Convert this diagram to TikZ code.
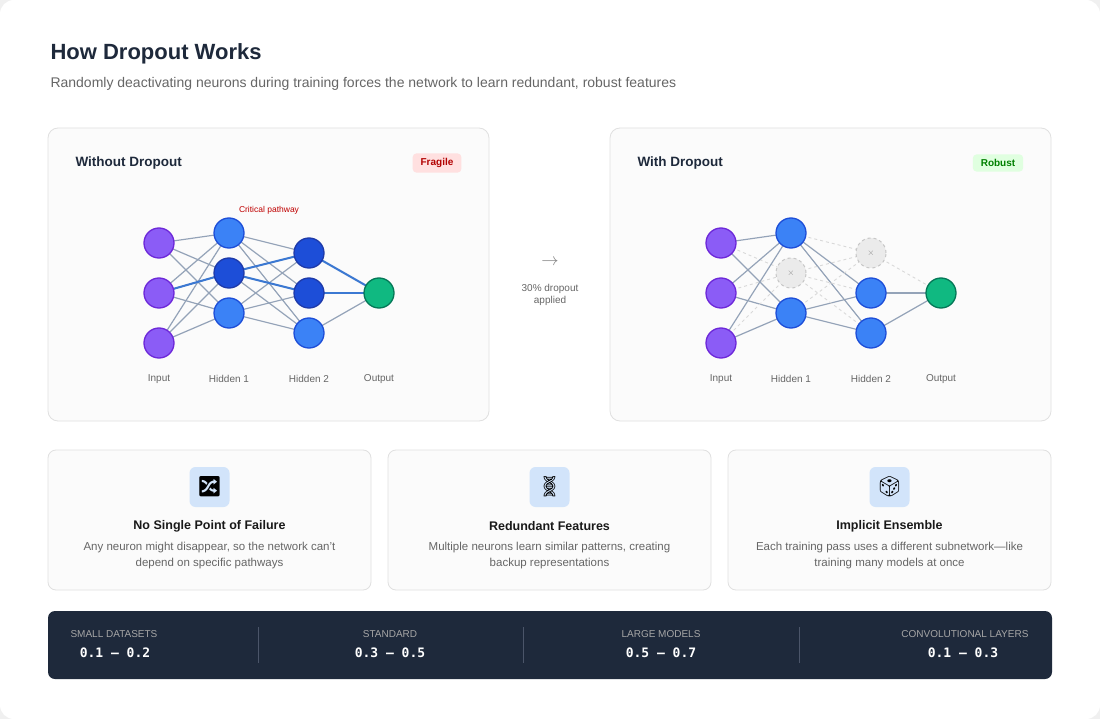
\documentclass[tikz,border=0pt]{standalone}
\usepackage{fontspec}
\setmainfont{Liberation Sans}
\newfontfamily\emo{Noto Emoji}
\newfontfamily\monob{DejaVu Sans Mono}
\definecolor{slatedark}{RGB}{30,41,59}
\definecolor{slatebar}{RGB}{30,41,59}
\definecolor{inpf}{RGB}{139,92,246}
\definecolor{inpd}{RGB}{109,40,217}
\definecolor{hidf}{RGB}{59,130,246}
\definecolor{hidd}{RGB}{29,78,216}
\definecolor{hiddd}{RGB}{30,58,170}
\definecolor{outf}{RGB}{16,185,129}
\definecolor{outd}{RGB}{4,120,87}
\definecolor{edgec}{RGB}{148,163,184}
\definecolor{hic}{RGB}{59,120,210}
\definecolor{iboxc}{RGB}{210,228,250}
\definecolor{sepc}{RGB}{75,85,105}
\begin{document}
\begin{tikzpicture}[x=1pt,y=-1pt,
  panel/.style={draw=black!12,fill=black!1.5,rounded corners=10pt,line width=0.8pt},
  inp/.style={circle,minimum size=30pt,inner sep=0,draw=inpd,fill=inpf,line width=1.3pt},
  hid/.style={circle,minimum size=30pt,inner sep=0,draw=hidd,fill=hidf,line width=1.3pt},
  hiddk/.style={hid,fill=hidd,draw=hiddd},
  outn/.style={circle,minimum size=30pt,inner sep=0,draw=outd,fill=outf,line width=1.3pt},
  drop/.style={circle,minimum size=30pt,inner sep=0,draw=black!22,dashed,fill=black!8,line width=1pt,font=\fontsize{9}{9}\selectfont,text=black!45},
  ed/.style={draw=edgec,line width=1.2pt},
  hi/.style={draw=hic,line width=2pt},
  de/.style={draw=black!15,dashed,line width=0.9pt},
  lab/.style={font=\fontsize{10}{10}\selectfont,text=black!60},
  ttl/.style={font=\bfseries\fontsize{13.5}{14}\selectfont,text=slatedark,anchor=west},
  card/.style={draw=black!12,fill=black!1.5,rounded corners=8pt,line width=0.8pt},
  ibox/.style={fill=iboxc,rounded corners=6pt,minimum size=40pt,inner sep=0},
  ct/.style={font=\bfseries\fontsize{12.5}{13}\selectfont,text=black!90},
  cd/.style={font=\fontsize{11.5}{16}\selectfont,text=black!60,align=center},
  sl/.style={font=\fontsize{10}{10}\selectfont,text=black!35},
  sv/.style={font=\monob\bfseries\fontsize{13}{13}\selectfont,text=white}]
\fill[black!6] (0,0) rectangle (1100,719);
\fill[white,rounded corners=14pt] (0,0) rectangle (1100,719);
\useasboundingbox (0,0) rectangle (1100,719);
\node[anchor=west,font=\bfseries\fontsize{22}{22}\selectfont,text=slatedark] (title) at (47,54) {How Dropout Works};
\node[anchor=west,font=\fontsize{14}{14}\selectfont,text=black!60] (sub) at (47,84) {Randomly deactivating neurons during training forces the network to learn redundant, robust features};
% panels
\draw[panel] (48,128) rectangle (489,421);
\draw[panel] (610,128) rectangle (1051,421);
\node[ttl] (t1) at (72,163) {Without Dropout};
\node[ttl] (t2) at (634,163) {With Dropout};
\node[fill=red!12,text=red!70!black,rounded corners=4pt,font=\bfseries\fontsize{10}{10}\selectfont,inner xsep=8pt,inner ysep=5pt] (b1) at (437,163) {Fragile};
\node[fill=green!12,text=green!50!black,rounded corners=4pt,font=\bfseries\fontsize{10}{10}\selectfont,inner xsep=8pt,inner ysep=5pt] (b2) at (998,163) {Robust};
\node[font=\fontsize{18}{18}\selectfont,text=black!50] (arr) at (550,262) {$\rightarrow$};
\node[font=\fontsize{10}{12}\selectfont,text=black!60,align=center] (arrl) at (550,295) {30\% dropout\\applied};
% left network
\foreach \i/\y in {1/243,2/293,3/343} \coordinate (a\i) at (159,\y);
\coordinate (b1n) at (229,233); \coordinate (b2n) at (229,273); \coordinate (b3n) at (229,313);
\coordinate (c1) at (309,253); \coordinate (c2) at (309,293); \coordinate (c3) at (309,333);
\coordinate (o) at (379,293);
\foreach \i in {1,2,3} \foreach \j in {b1n,b2n,b3n} \path[ed] (a\i) -- (\j);
\foreach \i in {b1n,b2n,b3n} \foreach \j in {c1,c2,c3} \path[ed] (\i) -- (\j);
\foreach \i in {c1,c2,c3} \path[ed] (\i) -- (o);
\path[hi] (a2) -- (b2n); \path[hi] (b2n) -- (c1); \path[hi] (b2n) -- (c2);
\path[hi] (c1) -- (o); \path[hi] (c2) -- (o);
\node[inp] (an1) at (a1) {};\node[inp] (an2) at (a2) {};\node[inp] (an3) at (a3) {};
\node[hid] (bb1) at (b1n) {};\node[hiddk] (bb2) at (b2n) {};\node[hid] (bb3) at (b3n) {};
\node[hiddk] (cc1) at (c1) {};\node[hiddk] (cc2) at (c2) {};\node[hid] (cc3) at (c3) {};\node[outn] (oo) at (o) {};
\node[font=\fontsize{8.5}{9}\selectfont,text=red!75!black] (crit) at (269,210) {Critical pathway};
\node[lab] (l1) at (159,379) {Input};
\node[lab] (l2) at (229,379) {Hidden 1};
\node[lab] (l3) at (309,379) {Hidden 2};
\node[lab] (l4) at (379,379) {Output};
% right network
\foreach \i/\y in {1/243,2/293,3/343} \coordinate (p\i) at (721,\y);
\coordinate (q1) at (791,233); \coordinate (q2) at (791,273); \coordinate (q3) at (791,313);
\coordinate (r1) at (871,253); \coordinate (r2) at (871,293); \coordinate (r3) at (871,333);
\coordinate (s) at (941,293);
\foreach \i in {1,2,3} {\path[de] (p\i) -- (q2); \path[ed] (p\i) -- (q1); \path[ed] (p\i) -- (q3);}
\foreach \i in {q1,q3} {\path[de] (\i) -- (r1); \path[ed] (\i) -- (r2); \path[ed] (\i) -- (r3);}
\foreach \j in {r1,r2,r3} \path[de] (q2) -- (\j);
\path[de] (r1) -- (s); \path[ed] (r2) -- (s); \path[ed] (r3) -- (s);
\foreach \i in {1,2,3} \node[inp] (pn\i) at (p\i) {};
\node[hid] (qn1) at (q1) {}; \node[drop] (qn2) at (q2) {$\times$}; \node[hid] (qn3) at (q3) {};
\node[drop] (rn1) at (r1) {$\times$}; \node[hid] (rn2) at (r2) {}; \node[hid] (rn3) at (r3) {};
\node[outn] (sn) at (s) {};
\node[lab] (m1) at (721,379) {Input};
\node[lab] (m2) at (791,379) {Hidden 1};
\node[lab] (m3) at (871,379) {Hidden 2};
\node[lab] (m4) at (941,379) {Output};
% cards
\foreach \x in {48,388,728} \draw[card] (\x,450) rectangle ++(323,140);
\node[ibox] (i1) at (209.5,487) {\emo\fontsize{20}{20}\selectfont 🔀};
\node[ibox] (i2) at (549.5,487) {\emo\fontsize{20}{20}\selectfont 🧬};
\node[ibox] (i3) at (889.5,487) {\emo\fontsize{20}{20}\selectfont 🎲};
\node[ct] (k1) at (209.5,526) {No Single Point of Failure};
\node[ct] (k2) at (549.5,526) {Redundant Features};
\node[ct] (k3) at (889.5,526) {Implicit Ensemble};
\node[cd] (d1) at (209.5,556) {Any neuron might disappear, so the network can't\\depend on specific pathways};
\node[cd] (d2) at (549.5,556) {Multiple neurons learn similar patterns, creating\\backup representations};
\node[cd] (d3) at (889.5,556) {Each training pass uses a different subnetwork---like\\training many models at once};
% bottom bar
\fill[slatebar,rounded corners=7pt] (48,611) rectangle (1052,679);
\foreach \x in {258,523,799} \draw[sepc] (\x,627) -- (\x,663);
\node[sl,anchor=west] (s1) at (67,634) {SMALL DATASETS};
\node[sv] (v1) at (115,653) {0.1 – 0.2};
\node[sl] (s2) at (390,634) {STANDARD};
\node[sv] (v2) at (390,653) {0.3 – 0.5};
\node[sl] (s3) at (661,634) {LARGE MODELS};
\node[sv] (v3) at (661,653) {0.5 – 0.7};
\node[sl,anchor=east] (s4) at (1032,634) {CONVOLUTIONAL LAYERS};
\node[sv] (v4) at (963,653) {0.1 – 0.3};
\end{tikzpicture}
\end{document}
